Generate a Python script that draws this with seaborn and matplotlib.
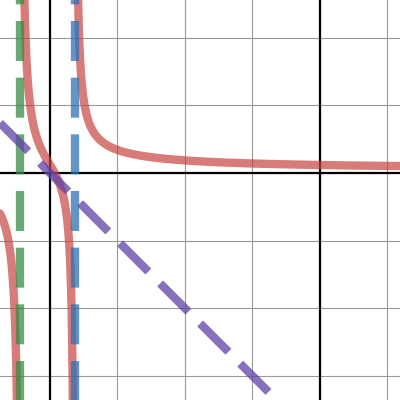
import numpy as np
import pandas as pd
import matplotlib
matplotlib.use("Agg")
import matplotlib.pyplot as plt
import seaborn as sns

asym_green = -0.44
asym_blue = 0.37
num_coef = [0.05, 0.28, -0.02]   # numerator of red rational curve
line_slope = -1.0
line_icept = 0.0
xlim = (-0.74, 5.19)
ylim = (-3.36, 2.56)

sns.set_style("white")
fig = plt.figure(figsize=(4, 4), dpi=100)
ax = fig.add_axes([0, 0, 1, 1])
ax.set_xlim(*xlim); ax.set_ylim(*ylim)
for g in range(-1, 6):
    ax.axvline(g, color="#999999", lw=0.8, zorder=0)
for g in range(-4, 3):
    ax.axhline(g, color="#999999", lw=0.8, zorder=0)
for g in [0, 4]:
    ax.axvline(g, color="black", lw=1.6, zorder=1)
ax.axhline(0, color="black", lw=1.6, zorder=1)

def red(x):
    return np.polyval(num_coef, x) / ((x - asym_green) * (x - asym_blue))

segs = [(xlim[0], asym_green - 1e-3), (asym_green + 1e-3, asym_blue - 1e-3), (asym_blue + 1e-3, xlim[1])]
for a, b in segs:
    xs = np.linspace(a, b, 2000)
    ys = np.clip(red(xs), -20, 20)
    sns.lineplot(x=xs, y=ys, ax=ax, color="#c74440", alpha=0.7, lw=6, sort=False, estimator=None, zorder=3)

for xv, c in [(asym_green, "#388c46"), (asym_blue, "#2d70b3")]:
    sns.lineplot(x=[xv, xv], y=[ylim[0] - 1, ylim[1] + 1], ax=ax, color=c, alpha=0.75, lw=6,
                 sort=False, estimator=None, zorder=4).lines[-1].set_dashes([4.8, 2])

xl = np.array(xlim)
sns.lineplot(x=xl, y=line_slope * xl + line_icept, ax=ax, color="#6042a6", alpha=0.75, lw=6,
             sort=False, estimator=None, zorder=4).lines[-1].set_dashes([4.8, 2])

ax.set_xticks([]); ax.set_yticks([])
for s in ax.spines.values():
    s.set_visible(False)
fig.savefig("out.png", dpi=100)
